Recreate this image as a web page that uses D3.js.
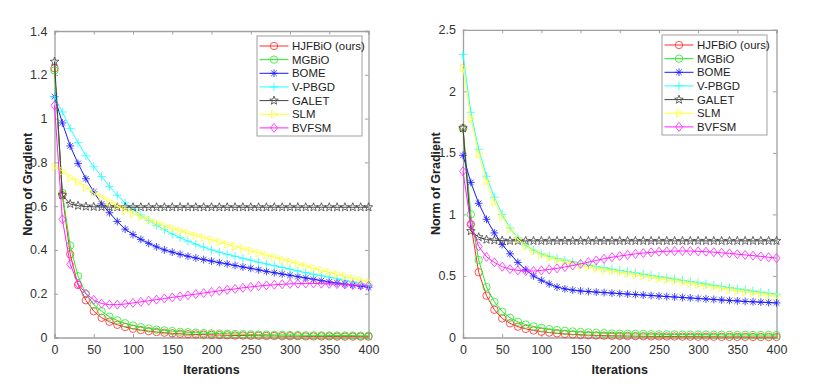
<!DOCTYPE html>
<html>
<head>
<meta charset="utf-8">
<script src="https://cdn.jsdelivr.net/npm/d3@7"></script>
<style>
  body { margin: 0; background: #fff; }
  svg text { font-family: "Liberation Sans", Arial, sans-serif; }
</style>
</head>
<body>
<div id="chart"></div>
<script>
// iterations where markers sit (one every 10)
const iterations = [0, 10, 20, 30, 40, 50, 60, 70, 80, 90, 100, 110, 120, 130, 140, 150, 160, 170, 180, 190, 200,
    210, 220, 230, 240, 250, 260, 270, 280, 290, 300, 310, 320, 330, 340, 350, 360, 370, 380, 390, 400];

const methods = ["HJFBiO (ours)", "MGBiO", "BOME", "V-PBGD", "GALET", "SLM", "BVFSM"];

const xTicks = [0, 50, 100, 150, 200, 250, 300, 350, 400];
const leftYTicks = [0, 0.2, 0.4, 0.6, 0.8, 1, 1.2, 1.4];
const rightYTicks = [0, 0.5, 1, 1.5, 2, 2.5];

// left panel
const leftHJFBiO = [1.23, 0.65, 0.38, 0.24, 0.17, 0.12, 0.09, 0.072, 0.058, 0.048, 0.040, 0.034, 0.029, 0.025, 0.022, 0.019, 0.017, 0.015, 0.014, 0.013, 0.012,
    0.011, 0.010, 0.009, 0.009, 0.008, 0.008, 0.007, 0.007, 0.006, 0.006, 0.006, 0.005, 0.005, 0.005, 0.005, 0.004, 0.004, 0.004, 0.004, 0.004];
const leftMGBiO = [1.22, 0.66, 0.42, 0.28, 0.20, 0.15, 0.12, 0.095, 0.078, 0.065, 0.055, 0.047, 0.041, 0.036, 0.032, 0.029, 0.026, 0.024, 0.022, 0.020, 0.019,
    0.018, 0.017, 0.016, 0.015, 0.014, 0.013, 0.013, 0.012, 0.012, 0.011, 0.011, 0.010, 0.010, 0.010, 0.009, 0.009, 0.009, 0.009, 0.008, 0.008];
const leftBOME = [1.10, 0.98, 0.875, 0.795, 0.725, 0.665, 0.61, 0.57, 0.53, 0.495, 0.47, 0.448, 0.43, 0.414, 0.40, 0.39, 0.38, 0.371, 0.363, 0.356, 0.349,
    0.342, 0.336, 0.329, 0.322, 0.316, 0.309, 0.302, 0.296, 0.29, 0.284, 0.278, 0.272, 0.266, 0.26, 0.254, 0.249, 0.244, 0.239, 0.234, 0.23];
const leftVPBGD = [1.10, 1.03, 0.955, 0.89, 0.83, 0.78, 0.735, 0.69, 0.65, 0.615, 0.585, 0.56, 0.535, 0.512, 0.492, 0.473, 0.456, 0.44, 0.426, 0.413, 0.40,
    0.39, 0.38, 0.371, 0.362, 0.353, 0.344, 0.336, 0.328, 0.32, 0.312, 0.304, 0.296, 0.289, 0.282, 0.275, 0.268, 0.261, 0.254, 0.247, 0.24];
const leftGALET = [1.26, 0.65, 0.61, 0.602, 0.598, 0.597, 0.596, 0.596, 0.595, 0.595, 0.595, 0.595, 0.595, 0.595, 0.595, 0.595, 0.595, 0.595, 0.595, 0.595, 0.595,
    0.595, 0.595, 0.595, 0.595, 0.595, 0.595, 0.595, 0.595, 0.595, 0.595, 0.595, 0.595, 0.595, 0.595, 0.595, 0.595, 0.595, 0.595, 0.595, 0.595];
const leftSLM = [0.78, 0.76, 0.73, 0.71, 0.685, 0.66, 0.64, 0.62, 0.60, 0.582, 0.566, 0.551, 0.537, 0.523, 0.51, 0.498, 0.487, 0.476, 0.466, 0.456, 0.446,
    0.436, 0.426, 0.416, 0.406, 0.396, 0.386, 0.376, 0.366, 0.356, 0.346, 0.336, 0.326, 0.316, 0.306, 0.297, 0.288, 0.279, 0.27, 0.261, 0.252];
const leftBVFSM = [1.06, 0.54, 0.335, 0.245, 0.2, 0.172, 0.155, 0.15, 0.15, 0.153, 0.158, 0.163, 0.168, 0.173, 0.178, 0.183, 0.188, 0.193, 0.198, 0.203, 0.208,
    0.213, 0.218, 0.222, 0.227, 0.231, 0.235, 0.238, 0.241, 0.243, 0.245, 0.246, 0.247, 0.247, 0.246, 0.245, 0.244, 0.242, 0.24, 0.238, 0.236];

// right panel
const rightHJFBiO = [1.70, 0.92, 0.53, 0.34, 0.225, 0.155, 0.115, 0.088, 0.07, 0.057, 0.047, 0.04, 0.034, 0.029, 0.025, 0.022, 0.019, 0.017, 0.015, 0.014, 0.013,
    0.012, 0.011, 0.010, 0.009, 0.009, 0.008, 0.008, 0.007, 0.007, 0.006, 0.006, 0.006, 0.005, 0.005, 0.005, 0.005, 0.004, 0.004, 0.004, 0.004];
const rightMGBiO = [1.70, 1.0, 0.63, 0.41, 0.29, 0.21, 0.16, 0.127, 0.105, 0.09, 0.078, 0.068, 0.06, 0.054, 0.049, 0.045, 0.041, 0.038, 0.035, 0.033, 0.031,
    0.03, 0.029, 0.028, 0.027, 0.026, 0.025, 0.025, 0.024, 0.024, 0.023, 0.023, 0.022, 0.022, 0.021, 0.021, 0.021, 0.02, 0.02, 0.02, 0.02];
const rightBOME = [1.48, 1.26, 1.09, 0.96, 0.85, 0.755, 0.68, 0.61, 0.55, 0.50, 0.465, 0.435, 0.41, 0.395, 0.385, 0.378, 0.373, 0.369, 0.365, 0.361, 0.357,
    0.353, 0.349, 0.345, 0.341, 0.337, 0.333, 0.329, 0.325, 0.321, 0.317, 0.313, 0.309, 0.305, 0.301, 0.297, 0.293, 0.29, 0.287, 0.284, 0.281];
const rightVPBGD = [2.30, 1.83, 1.53, 1.31, 1.14, 1.0, 0.89, 0.81, 0.75, 0.71, 0.68, 0.66, 0.643, 0.628, 0.614, 0.601, 0.589, 0.578, 0.567, 0.556, 0.545,
    0.535, 0.525, 0.515, 0.505, 0.495, 0.485, 0.475, 0.465, 0.455, 0.445, 0.435, 0.425, 0.415, 0.405, 0.396, 0.387, 0.378, 0.369, 0.36, 0.352];
const rightGALET = [1.70, 0.865, 0.815, 0.795, 0.79, 0.787, 0.785, 0.785, 0.785, 0.785, 0.785, 0.785, 0.785, 0.785, 0.785, 0.785, 0.785, 0.785, 0.785, 0.785, 0.785,
    0.785, 0.785, 0.785, 0.785, 0.785, 0.785, 0.785, 0.785, 0.785, 0.785, 0.785, 0.785, 0.785, 0.785, 0.785, 0.785, 0.785, 0.785, 0.785, 0.785];
const rightSLM = [2.19, 1.78, 1.49, 1.27, 1.10, 0.98, 0.88, 0.80, 0.74, 0.70, 0.67, 0.648, 0.63, 0.614, 0.6, 0.586, 0.573, 0.561, 0.55, 0.54, 0.53,
    0.52, 0.51, 0.5, 0.49, 0.48, 0.47, 0.46, 0.45, 0.44, 0.43, 0.42, 0.41, 0.4, 0.39, 0.38, 0.371, 0.362, 0.353, 0.344, 0.336];
const rightBVFSM = [1.35, 0.92, 0.74, 0.655, 0.61, 0.575, 0.555, 0.545, 0.54, 0.54, 0.545, 0.553, 0.562, 0.573, 0.585, 0.598, 0.612, 0.626, 0.64, 0.652, 0.662,
    0.671, 0.679, 0.686, 0.692, 0.697, 0.70, 0.702, 0.703, 0.702, 0.70, 0.697, 0.693, 0.688, 0.683, 0.677, 0.671, 0.665, 0.659, 0.652, 0.645];

// matlab-ish colours and markers, one per method
const colors = ["#ff2a2a", "#22ee22", "#1a1aff", "#22ffff", "#444444", "#ffff33", "#ff22ff"];
const markers = ["circle", "circle", "asterisk", "plus", "pentagram", "triangleRight", "diamond"];

function markerPath(type) {
    if (type == "circle") {
        let r = 3.7;
        return `M${r},0A${r},${r} 0 1 1 ${-r},0A${r},${r} 0 1 1 ${r},0Z`;
    }
    if (type == "plus") {
        let s = 4.3;
        return `M${-s},0H${s}M0,${-s}V${s}`;
    }
    if (type == "asterisk") {
        let s = 3.9, a = 2.8;
        return `M${-s},0H${s}M0,${-s}V${s}M${-a},${-a}L${a},${a}M${-a},${a}L${a},${-a}`;
    }
    if (type == "pentagram") {
        let pts = [];
        for (let i = 0; i < 10; i++) {
            let r = i % 2 == 0 ? 4.5 : 1.9;
            let ang = -Math.PI / 2 + i * Math.PI / 5;
            pts.push([r * Math.cos(ang), r * Math.sin(ang)]);
        }
        return "M" + pts.map(p => p[0].toFixed(2) + "," + p[1].toFixed(2)).join("L") + "Z";
    }
    if (type == "triangleRight") {
        return "M4.2,0L-2.5,-3.9L-2.5,3.9Z";
    }
    if (type == "diamond") {
        return "M0,-4.5L3.5,0L0,4.5L-3.5,0Z";
    }
}

const width = 818, height = 384;

const svg = d3.select("#chart").append("svg")
    .attr("width", width)
    .attr("height", height);

function drawPanel(cfg) {
    let g = svg.append("g");

    let x = d3.scaleLinear().domain([0, 400]).range([cfg.left, cfg.right]);
    let y = d3.scaleLinear().domain([0, cfg.yMax]).range([cfg.bottom, cfg.top]);

    let axisColor = "#a0a0a0";
    let textColor = "#333";

    // box + inward ticks on all four sides
    let fmt = d3.format("~g");
    let bottomAxis = g.append("g").attr("transform", `translate(0,${cfg.bottom})`)
        .call(d3.axisBottom(x).tickValues(xTicks).tickSize(-3.5).tickPadding(8).tickFormat(fmt));
    let topAxis = g.append("g").attr("transform", `translate(0,${cfg.top})`)
        .call(d3.axisTop(x).tickValues(xTicks).tickSize(-3.5).tickFormat(""));
    let leftAxis = g.append("g").attr("transform", `translate(${cfg.left},0)`)
        .call(d3.axisLeft(y).tickValues(cfg.yTicks).tickSize(-3.5).tickPadding(7).tickFormat(fmt));
    let rightAxis = g.append("g").attr("transform", `translate(${cfg.right},0)`)
        .call(d3.axisRight(y).tickValues(cfg.yTicks).tickSize(-3.5).tickFormat(""));

    [bottomAxis, topAxis, leftAxis, rightAxis].forEach(a => {
        a.select(".domain").attr("stroke", axisColor).attr("stroke-width", 1.3);
        a.selectAll(".tick line").attr("stroke", axisColor);
        a.selectAll("text")
            .attr("fill", textColor)
            .style("font-size", "12.5px")
            .style("font-family", "'Liberation Sans', Arial, sans-serif");
    });

    // lines + markers
    let line = d3.line()
        .x((d, i) => x(iterations[i]))
        .y(d => y(d));

    cfg.series.forEach((vals, k) => {
        let sg = g.append("g").attr("class", "series");
        sg.append("path")
            .attr("d", line(vals))
            .attr("fill", "none")
            .attr("stroke", colors[k])
            .attr("stroke-width", 1);
        sg.selectAll("path.marker").data(vals).enter().append("path")
            .attr("class", "marker")
            .attr("d", markerPath(markers[k]))
            .attr("transform", (d, i) => `translate(${x(iterations[i])},${y(d)})`)
            .attr("fill", "none")
            .attr("stroke", colors[k])
            .attr("stroke-width", 0.8);
    });

    // axis titles
    g.append("text")
        .attr("x", (cfg.left + cfg.right) / 2)
        .attr("y", cfg.bottom + 36)
        .attr("text-anchor", "middle")
        .attr("font-weight", "bold")
        .attr("font-size", 12.5)
        .attr("fill", "#222")
        .text("Iterations");
    g.append("text")
        .attr("transform", `translate(${cfg.left - 23},${(cfg.top + cfg.bottom) / 2}) rotate(-90)`)
        .attr("text-anchor", "middle")
        .attr("font-weight", "bold")
        .attr("font-size", 12.5)
        .attr("fill", "#222")
        .text("Norm of Gradient");

    // legend
    let lg = g.append("g").attr("transform", `translate(${cfg.legX},${cfg.legY})`);
    let rowH = 13.65;
    lg.append("rect")
        .attr("width", 105)
        .attr("height", 100)
        .attr("fill", "#fff")
        .attr("stroke", "#a0a0a0")
        .attr("stroke-width", 1);
    methods.forEach((m, k) => {
        let ry = 10 + k * rowH;
        lg.append("line")
            .attr("x1", 2.5).attr("x2", 31.5)
            .attr("y1", ry).attr("y2", ry)
            .attr("stroke", colors[k]).attr("stroke-width", 1);
        lg.append("path")
            .attr("d", markerPath(markers[k]))
            .attr("transform", `translate(17,${ry})`)
            .attr("fill", "none")
            .attr("stroke", colors[k])
            .attr("stroke-width", 0.8);
        lg.append("text")
            .attr("x", 35)
            .attr("y", ry + 4)
            .attr("font-size", 11.4)
            .attr("fill", "#222")
            .text(m);
    });
}

drawPanel({
    left: 54.5, right: 368.5, top: 31, bottom: 337.5,
    yMax: 1.4, yTicks: leftYTicks,
    legX: 257, legY: 36,
    series: [leftHJFBiO, leftMGBiO, leftBOME, leftVPBGD, leftGALET, leftSLM, leftBVFSM]
});

drawPanel({
    left: 463, right: 776.5, top: 29.8, bottom: 337.5,
    yMax: 2.5, yTicks: rightYTicks,
    legX: 662, legY: 35,
    series: [rightHJFBiO, rightMGBiO, rightBOME, rightVPBGD, rightGALET, rightSLM, rightBVFSM]
});
</script>
</body>
</html>
